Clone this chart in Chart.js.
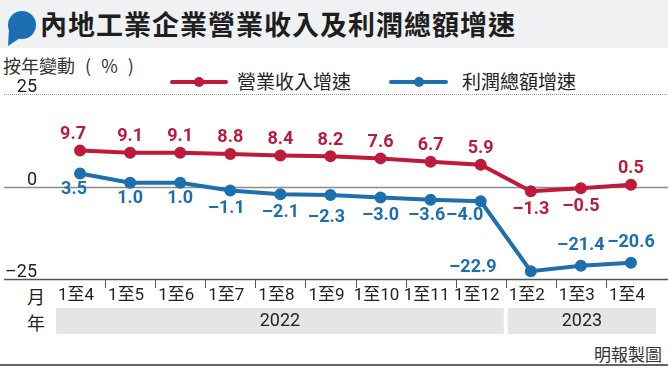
<!DOCTYPE html>
<html>
<head>
<meta charset="utf-8">
<script src="https://cdn.jsdelivr.net/npm/chart.js@4.4.0/dist/chart.umd.min.js"></script>
<style>
  body { margin: 0; background: #fff; }
  #wrap { position: relative; width: 668px; height: 369px; overflow: hidden; font-family: "Noto Sans CJK TC", sans-serif; color: #222; }
  #head { position: absolute; left: 0; top: 0; width: 668px; height: 48px; background: #eff1f2; }
  #head svg { position: absolute; left: 6px; top: 8px; }
  #title { position: absolute; left: 40px; top: 4px; font-size: 27px; font-weight: 700; color: #1e1e1e; letter-spacing: 1px; white-space: nowrap; }
  #ytitle { position: absolute; left: 3px; top: 52px; font-size: 18px; color: #333; white-space: pre; word-spacing: 6px; }
  .leg { position: absolute; top: 67px; font-size: 19px; color: #222; white-space: nowrap; }
  .leg i { position: absolute; top: 13px; height: 4px; border-radius: 2px; }
  .leg b { position: absolute; top: 10px; width: 10px; height: 10px; border-radius: 50%; }
  .side { position: absolute; left: 27px; font-size: 18px; color: #222; }
  #credit { position: absolute; right: 6px; top: 341px; font-size: 17px; color: #333; }
  #rule { position: absolute; left: 0; top: 364px; width: 668px; height: 2px; background: #666; }
  canvas { position: absolute; left: 0; top: 0; }
</style>
</head>
<body>
<div id="wrap">
  <div id="head">
    <svg width="32" height="40" viewBox="0 0 32 40">
      <circle cx="16" cy="17" r="14" fill="#1d6fb4"/>
      <path d="M3 21 L2 38 L14 30 Z" fill="#1d6fb4"/>
    </svg>
    <div id="title">內地工業企業營業收入及利潤總額增速</div>
  </div>
  <div id="ytitle">按年變動 ( % )</div>
  <div class="leg" style="left:170px"><i style="left:0;width:58px;background:#be1a3a"></i><b style="left:24px;background:#be1a3a"></b><span style="margin-left:67px">營業收入增速</span></div>
  <div class="leg" style="left:389px"><i style="left:0;width:59px;background:#1d6fae"></i><b style="left:25px;background:#1d6fae"></b><span style="margin-left:73px">利潤總額增速</span></div>
  <div class="side" style="top:283px">月</div>
  <div class="side" style="top:309px">年</div>
  <div id="credit">明報製圖</div>
  <div id="rule"></div>
  <canvas id="c" width="668" height="369"></canvas>
</div>
<script>
const months = ["1至4", "1至5", "1至6", "1至7", "1至8", "1至9", "1至10", "1至11", "1至12", "1至2", "1至3", "1至4"];
const revenue = [9.7, 9.1, 9.1, 8.8, 8.4, 8.2, 7.6, 6.7, 5.9, -1.3, -0.5, 0.5];
const profit = [3.5, 1.0, 1.0, -1.1, -2.1, -2.3, -3.0, -3.6, -4.0, -22.9, -21.4, -20.6];
const yTicks = [25, 0, -25];
const years = ["2022", "2023"];
const yearSpans = [9, 3];

// label offsets (px) relative to each point
const revDx = [-7, 0, 0, 0, 0, 0, 0, 0, 0, 0, 0, 0];
const revDy = [-16, -16, -16, -16, -16, -16, -16, -16, -16, 18, 18, -16];
const proDx = [-6, 0, 0, -4, 0, -4, 0, -4, -16, -58, 0, 0];
const proDy = [16, 16, 16, 18, 18, 22, 18, 16, 14, -4, -20, -20];

const RED = "#be1a3a", BLUE = "#1d6fae";
const NUM = "Roboto, 'Liberation Sans', sans-serif";

function fmt(v) {
  return (v < 0 ? "\u2013" : "") + Math.abs(v).toFixed(1);
}

const decor = {
  id: "decor",
  beforeDatasetsDraw(chart) {
    const { ctx, scales: { x, y }, chartArea } = chart;
    ctx.save();
    // year bands
    let start = 0;
    yearSpans.forEach((n, k) => {
      const half = (x.getPixelForValue(1) - x.getPixelForValue(0)) / 2;
      const l = x.getPixelForValue(start) - half + (k ? 2 : 1);
      const r = x.getPixelForValue(start + n - 1) + half - (k ? 0 : 2);
      ctx.fillStyle = "#e3e5e6";
      ctx.fillRect(l, 308, r - l, 26);
      ctx.fillStyle = "#222";
      ctx.font = "18px " + NUM;
      ctx.textAlign = "center";
      ctx.textBaseline = "middle";
      ctx.fillText(years[k], (l + r) / 2, 321);
      start += n;
    });
    // horizontal lines and y labels
    yTicks.forEach(t => {
      const py = Math.round(y.getPixelForValue(t)) + 0.5;
      ctx.beginPath();
      ctx.moveTo(4, py);
      ctx.lineTo(668, py);
      if (t === 25) { ctx.setLineDash([1, 1]); ctx.strokeStyle = "#9a9a9a"; ctx.lineWidth = 1; }
      else if (t === 0) { ctx.setLineDash([]); ctx.strokeStyle = "#8c8c8c"; ctx.lineWidth = 1.5; }
      else { ctx.setLineDash([]); ctx.strokeStyle = "#555"; ctx.lineWidth = 1.5; }
      ctx.stroke();
      ctx.setLineDash([]);
      ctx.fillStyle = "#222";
      ctx.font = "18px " + NUM;
      ctx.textAlign = "right";
      ctx.textBaseline = "alphabetic";
      ctx.fillText(t < 0 ? "\u2013" + Math.abs(t) : String(t), 37, py - 3);
    });
    // tick marks between months
    ctx.strokeStyle = "#555";
    ctx.lineWidth = 1;
    for (let i = 1; i < months.length; i++) {
      const px = Math.round((x.getPixelForValue(i - 1) + x.getPixelForValue(i)) / 2) + 0.5;
      ctx.beginPath();
      ctx.moveTo(px, chartArea.bottom);
      ctx.lineTo(px, chartArea.bottom + 9);
      ctx.stroke();
    }
    ctx.restore();
  },
  afterDatasetsDraw(chart) {
    const { ctx } = chart;
    const offs = [[revDx, revDy], [proDx, proDy]];
    ctx.save();
    ctx.font = "bold 18px " + NUM;
    ctx.textAlign = "center";
    ctx.textBaseline = "middle";
    chart.data.datasets.forEach((ds, d) => {
      const meta = chart.getDatasetMeta(d);
      ctx.fillStyle = ds.borderColor;
      meta.data.forEach((pt, i) => {
        ctx.fillText(fmt(ds.data[i]), pt.x + offs[d][0][i], pt.y + offs[d][1][i]);
      });
    });
    ctx.restore();
  }
};

new Chart(document.getElementById("c"), {
  type: "line",
  data: {
    labels: months,
    datasets: [
      { label: "營業收入增速", data: revenue, borderColor: RED, backgroundColor: RED, borderWidth: 4, pointRadius: 4, pointHoverRadius: 4, tension: 0 },
      { label: "利潤總額增速", data: profit, borderColor: BLUE, backgroundColor: BLUE, borderWidth: 4, pointRadius: 4, pointHoverRadius: 4, tension: 0 }
    ]
  },
  options: {
    responsive: false,
    animation: false,
    layout: { padding: { left: 55, right: 12, top: 94, bottom: 0 } },
    plugins: { legend: { display: false }, tooltip: { enabled: false } },
    scales: {
      x: {
        offset: true,
        grid: { display: false, drawTicks: false },
        border: { display: false },
        ticks: { color: "#222", font: { family: "Roboto, 'Noto Sans CJK TC', sans-serif", size: 17 }, padding: 7, labelOffset: -4, maxRotation: 0, autoSkip: false },
        afterFit(s) { s.height = 90; }
      },
      y: { display: false, min: -25, max: 25 }
    }
  },
  plugins: [decor]
});
</script>
</body>
</html>
